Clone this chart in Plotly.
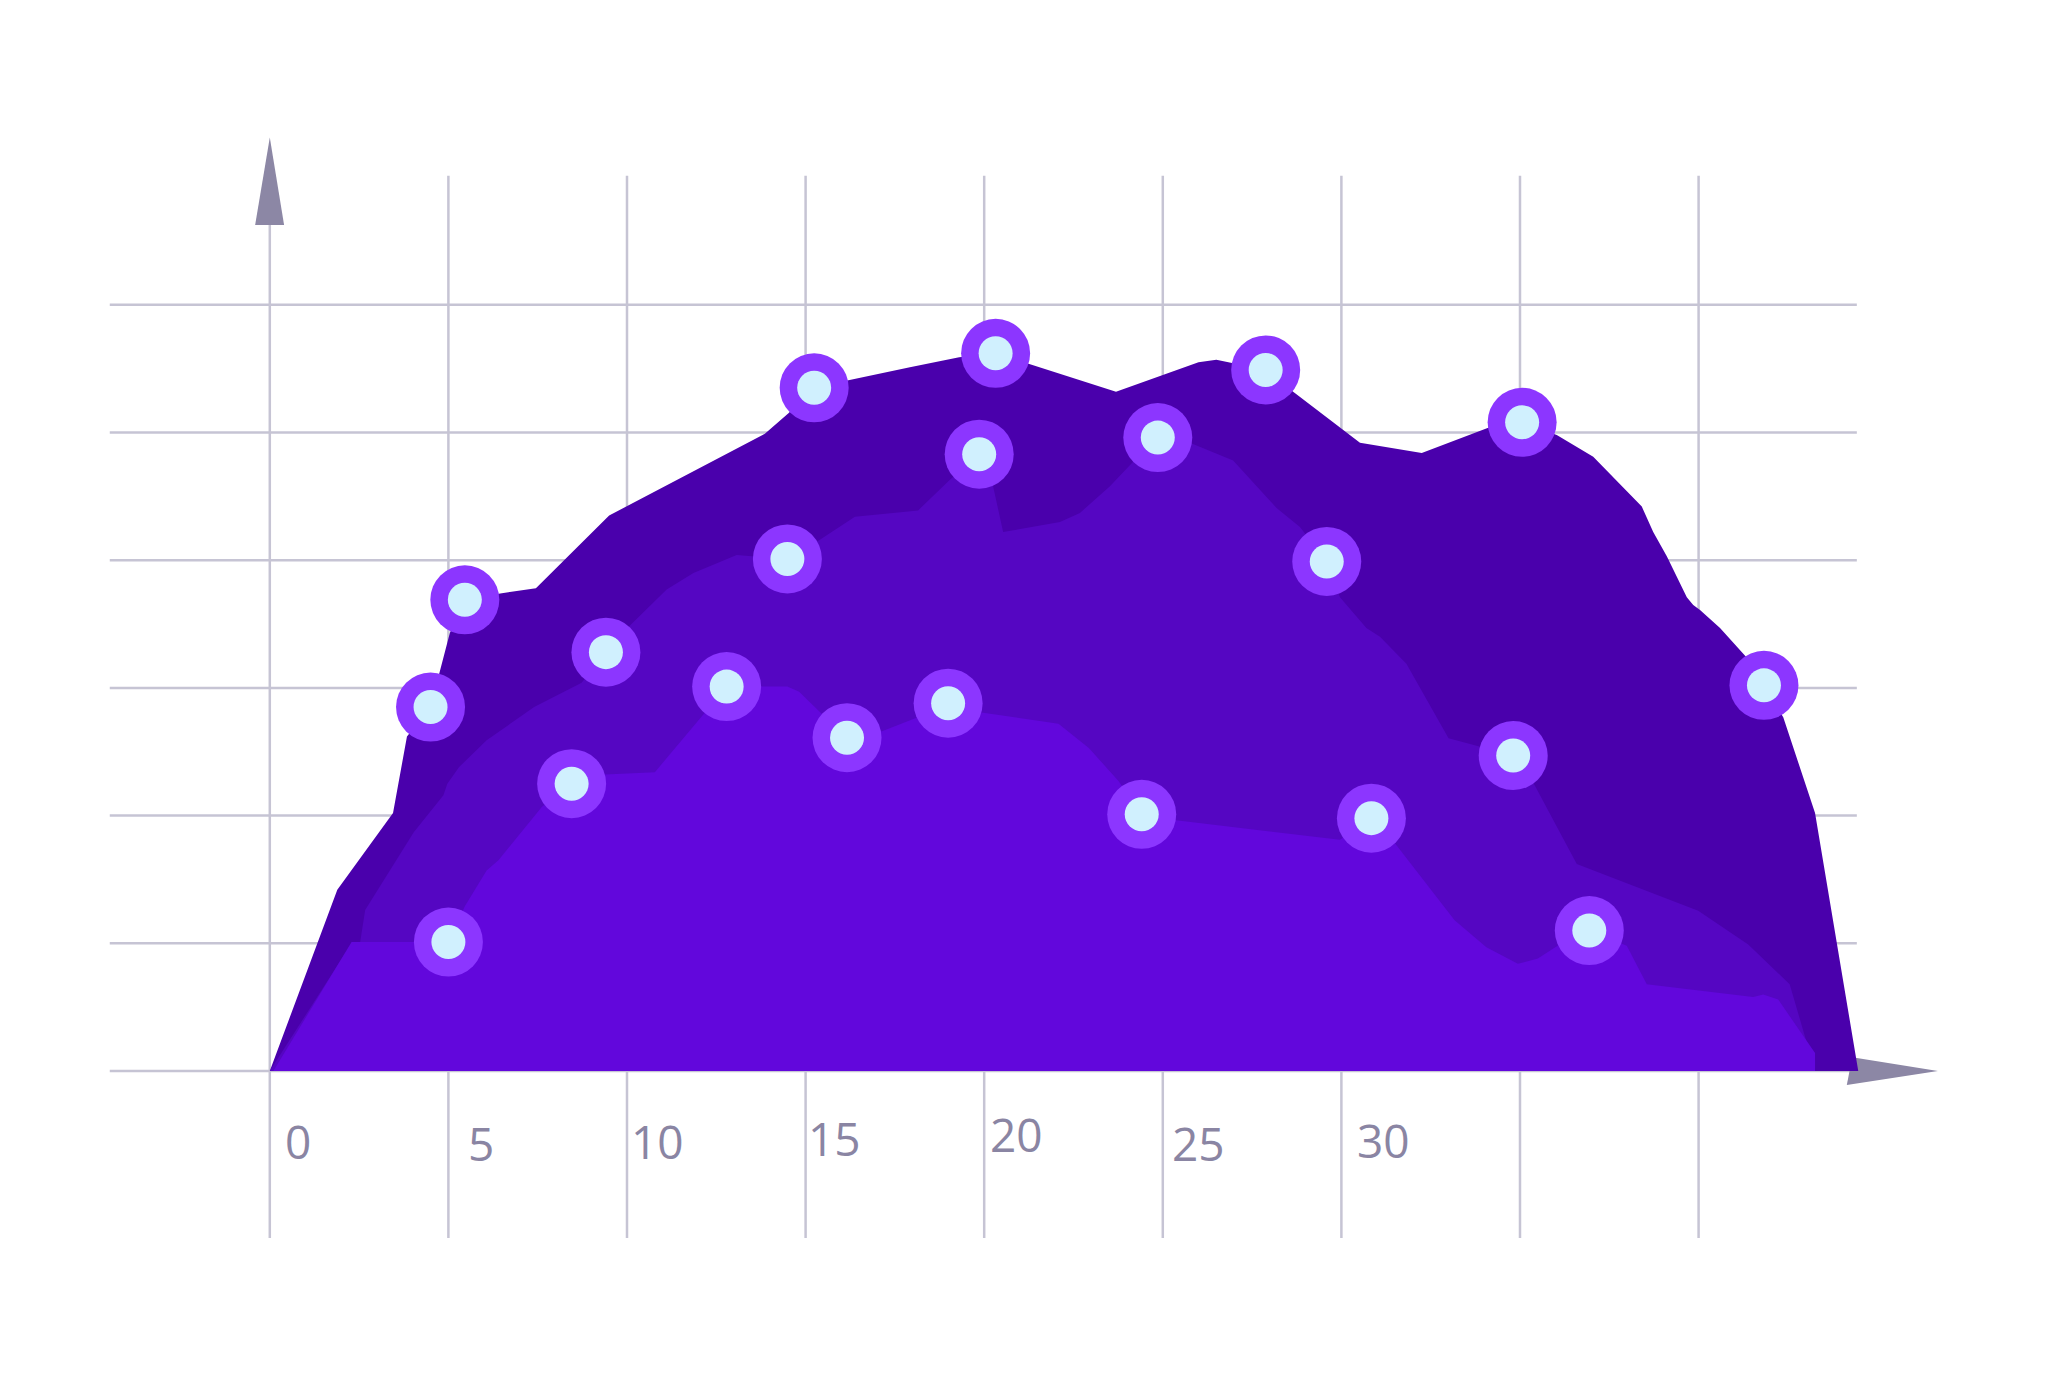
import plotly.graph_objects as go

# ---------------- data ----------------
# back (darkest) series outline
x_a = [0, 1.89, 3.45, 3.84, 4.50, 5.04, 5.46, 6.45, 7.45, 9.50, 13.86, 14.52, 15.24,
       16.20, 17.92, 19.30, 20.32, 23.69, 26.00, 26.50, 27.88, 28.65, 30.52, 32.25, 34.13,
       35.06, 36.03, 37.05, 38.41, 38.73, 39.11, 39.39, 39.67, 39.85, 40.04, 40.60, 41.34,
       41.83, 42.37, 43.26, 44.47]
y_a = [0, 14.2, 20.2, 26.2, 28.5, 34.3, 36.9, 37.4, 37.8, 43.5, 49.9, 51.5, 53.5,
       54.1, 55.1, 55.9, 56.2, 53.2, 55.5, 55.7, 54.9, 53.2, 49.2, 48.4, 50.4,
       50.8, 49.8, 48.1, 44.2, 42.2, 40.3, 38.7, 37.1, 36.5, 36.1, 34.7, 32.4,
       30.2, 27.7, 20.2, 0]

# middle series outline
x_b = [0, 2.29, 2.53, 2.67, 4.03, 4.86, 4.97, 5.30, 6.07, 7.40, 8.73, 9.41, 10.09, 11.11,
       11.86, 13.07, 14.49, 15.40, 16.38, 18.15, 19.04, 19.86, 20.25, 20.53, 22.12, 22.68,
       23.52, 24.13, 24.86, 25.76, 26.97, 28.18, 28.84, 29.59, 29.96, 30.70, 31.08, 31.82,
       33.00, 34.81, 35.37, 36.59, 39.99, 41.39, 42.55, 43.26]
y_b = [0, 10.0, 10.1, 12.6, 18.7, 21.6, 22.5, 23.8, 25.9, 28.5, 30.4, 32.8, 34.9, 37.7,
       39.0, 40.4, 40.1, 41.6, 43.4, 43.9, 46.3, 48.3, 45.8, 42.2, 43.0, 43.7,
       45.8, 47.6, 49.6, 49.2, 47.8, 44.1, 42.6, 39.9, 37.1, 34.7, 34.0, 31.9,
       26.05, 24.7, 22.6, 16.2, 12.55, 9.9, 6.8, 0]

# front (brightest) series outline
x_c = [0.10, 1.13, 2.29, 5.00, 5.46, 6.07, 6.40, 7.62, 8.45, 9.23, 10.78, 12.16, 12.79,
       14.49, 14.82, 15.48, 16.16, 17.14, 18.14, 18.99, 19.88, 22.08, 22.93, 23.76, 24.41,
       25.20, 29.96, 30.84, 31.51, 33.17, 34.06, 34.94, 35.50, 36.16, 36.94, 37.99, 38.55,
       41.53, 41.81, 42.23, 43.26, 43.26]
y_c = [0, 4.8, 10.1, 10.1, 12.9, 15.7, 16.5, 20.7, 22.5, 23.2, 23.4, 28.0, 30.1,
       30.1, 29.7, 27.9, 26.1, 26.6, 27.7, 28.8, 28.1, 27.2, 25.3, 22.7, 20.1,
       19.7, 18.1, 19.8, 17.8, 11.8, 9.7, 8.4, 8.8, 10.0, 11.0, 9.8, 6.8,
       5.8, 6.0, 5.6, 1.4, 0]

# highlighted points
mk_a_x = [4.50, 5.46, 15.24, 20.32, 27.88, 35.06, 41.83]
mk_a_y = [28.5, 36.9, 53.5, 56.2, 54.9, 50.8, 30.2]
mk_b_x = [9.41, 14.49, 19.86, 24.86, 29.59, 34.81]
mk_b_y = [32.8, 40.1, 48.3, 49.6, 39.9, 24.7]
mk_c_x = [5.00, 8.45, 12.79, 16.16, 18.99, 24.41, 30.84, 36.94]
mk_c_y = [10.1, 22.5, 30.1, 26.1, 28.8, 20.1, 19.8, 11.0]

# axes / grid
tick_vals = [0, 5, 10, 15, 20, 25, 30]
tick_text = ["0", "5", "10", "15", "20", "25", "30"]
grid_x = [0, 5, 10, 15, 20, 25, 30, 35, 40]
grid_y = [0, 10, 20, 30, 40, 50, 60]

# ---------------- layout helpers (positions / styles) ----------------
label_nudge_x = [0.79, 0.91, 0.86, 0.82, 0.91, 1.01, 1.19]
label_nudge_y = [-5.48, -5.64, -5.48, -5.25, -4.91, -5.64, -5.40]

AREA_COLORS = ["#4A00AC", "#5506C2", "#6207DC"]
RING = "#8C36FF"
CORE = "#D0F0FE"
GRID = "#C6C4D4"
AXIS = "#8C87A5"
LABEL = "#8A85A3"

fig = go.Figure()

for xs, ys, col in [(x_a, y_a, AREA_COLORS[0]), (x_b, y_b, AREA_COLORS[1]), (x_c, y_c, AREA_COLORS[2])]:
    fig.add_trace(go.Scatter(
        x=xs, y=ys, mode="lines", line=dict(width=0, color=col),
        fill="tozeroy", fillcolor=col, hoverinfo="skip", showlegend=False))

mx = mk_a_x + mk_b_x + mk_c_x
my = mk_a_y + mk_b_y + mk_c_y
fig.add_trace(go.Scatter(x=mx, y=my, mode="markers",
                         marker=dict(size=69, color=RING, line=dict(width=0)),
                         hoverinfo="skip", showlegend=False))
fig.add_trace(go.Scatter(x=mx, y=my, mode="markers",
                         marker=dict(size=34, color=CORE, line=dict(width=0)),
                         hoverinfo="skip", showlegend=False))

shapes = []
for gy in grid_y:
    shapes.append(dict(type="line", xref="x", yref="y", x0=-4.48, x1=44.43, y0=gy, y1=gy,
                       line=dict(color=GRID, width=2.5), layer="below"))
for gx in grid_x:
    top = 66.3 if gx == 0 else 70.1
    shapes.append(dict(type="line", xref="x", yref="y", x0=gx, x1=gx, y0=-13.07, y1=top,
                       line=dict(color=GRID, width=2.5), layer="below"))
# y-axis arrow head
shapes.append(dict(type="path", xref="x", yref="y",
                   path="M -0.41 66.25 L 0.0 73.1 L 0.40 66.25 Z",
                   fillcolor=AXIS, line=dict(width=0), layer="below"))
# x-axis arrow head
shapes.append(dict(type="path", xref="x", yref="y",
                   path="M 44.30 1.08 L 46.70 0.0 L 44.15 -1.10 Z",
                   fillcolor=AXIS, line=dict(width=0), layer="below"))

annotations = []
for v, t, dx, dy in zip(tick_vals, tick_text, label_nudge_x, label_nudge_y):
    annotations.append(dict(x=v + dx, y=dy, xref="x", yref="y", text=t, showarrow=False,
                            xanchor="center", yanchor="middle",
                            font=dict(family="Open Sans", size=46, color=LABEL)))

fig.update_layout(
    width=2048, height=1376, autosize=False,
    margin=dict(l=0, r=0, t=0, b=0, pad=0),
    paper_bgcolor="white", plot_bgcolor="white",
    xaxis=dict(range=[-7.5532, 49.782], visible=False, fixedrange=True),
    yaxis=dict(range=[-23.884, 83.868], visible=False, fixedrange=True),
    shapes=shapes, annotations=annotations, showlegend=False,
)

fig.write_html("out.html", config={"displayModeBar": False},
               post_script="document.body.style.margin='0';")
